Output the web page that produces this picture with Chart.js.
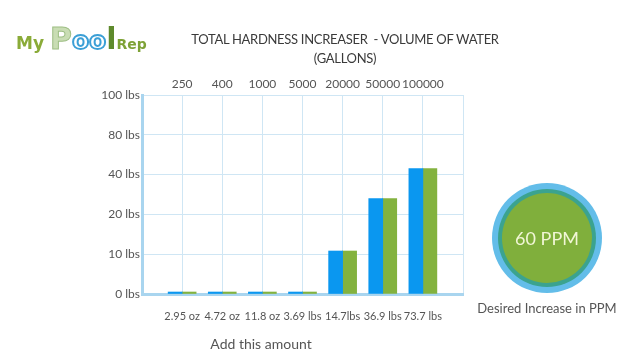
<!DOCTYPE html>
<html>
<head>
<meta charset="utf-8">
<script src="https://cdn.jsdelivr.net/npm/chart.js@4.4.1/dist/chart.umd.min.js"></script>
<style>
  html, body { margin: 0; padding: 0; background: #fff; }
  body { width: 640px; height: 360px; position: relative; overflow: hidden; font-family: Lato, "Open Sans", sans-serif; }
  #chart { position: absolute; left: 0; top: 0; }
  .txt { position: absolute; color: #555; white-space: nowrap; }
  .title { left: 150px; width: 390px; top: 30px; text-align: center; font-size: 13px; letter-spacing: -0.3px; line-height: 19px; color: #3a3a3a; }
  .xtitle { left: 161px; width: 200px; top: 335px; text-align: center; font-size: 14px; color: #555; }
  .ring { position: absolute; left: 492px; top: 183px; width: 110px; height: 110px; border-radius: 50%; background: #63bde9; }
  .ring .mid { position: absolute; left: 6px; top: 6px; width: 98px; height: 98px; border-radius: 50%; background: #3ba38f; }
  .ring .core { position: absolute; left: 4px; top: 4px; width: 90px; height: 90px; border-radius: 50%; background: #80af3c;
    color: #f1f6d6; font-size: 18px; text-align: center; line-height: 90px; }
  .ringlabel { left: 467px; width: 160px; top: 300px; text-align: center; font-size: 13px; }
  .logo { position: absolute; left: 16px; top: 21px; font-family: "DejaVu Sans", sans-serif; font-weight: bold; white-space: nowrap; }
  .logo .my { color: #8aab38; font-size: 17px; }
  .logo .p { color: #c9ddb4; font-size: 30px; -webkit-text-stroke: 1px #9fbf86; }
  .logo .o { color: #fff; font-size: 25px; -webkit-text-stroke: 2px #3b9fd6; }
  .logo .l { color: #5e8a2c; font-size: 30px; }
  .logo .rep { color: #7ea236; font-size: 14px; }
</style>
</head>
<body>
<canvas id="chart" width="640" height="360"></canvas>
<div class="logo"><span class="my">My </span><span class="p">P</span><span class="o">oo</span><span class="l">l</span><span class="rep">Rep</span></div>
<div class="txt title">TOTAL HARDNESS INCREASER&nbsp; - VOLUME OF WATER<br>(GALLONS)</div>
<div class="txt xtitle">Add this amount</div>
<div class="ring"><div class="mid"><div class="core">60 PPM</div></div></div>
<div class="txt ringlabel">Desired Increase in PPM</div>
<script>
// Data (bar heights are read in axis steps, the y axis is not linear in lbs)
const gallons = ['250', '400', '1000', '5000', '20000', '50000', '100000'];
const amounts = ['2.95 oz', '4.72 oz', '11.8 oz', '3.69 lbs', '14.7lbs', '36.9 lbs', '73.7 lbs'];
const yLabels = ['0 lbs', '10 lbs', '20 lbs', '40 lbs', '80 lbs', '100 lbs'];
const blueValues = [0.05, 0.05, 0.05, 0.05, 1.08, 2.4, 3.15];
const greenValues = [0.05, 0.05, 0.05, 0.05, 1.08, 2.4, 3.15];

const gridBlue = '#cfe6f4';
const axisBlue = '#a9d5ef';
const textGrey = '#555';

const toPoints = vals => vals.map((v, i) => ({ x: i + 1, y: v }));

new Chart(document.getElementById('chart'), {
  type: 'bar',
  data: {
    datasets: [
      { label: 'blue', data: toPoints(blueValues), backgroundColor: '#0a97f0', barThickness: 14 },
      { label: 'green', data: toPoints(greenValues), backgroundColor: '#83b23f', barThickness: 14 }
    ]
  },
  options: {
    responsive: false,
    animation: false,
    layout: { padding: { left: 92, top: 75, right: 177, bottom: 32 } },
    plugins: { legend: { display: false }, tooltip: { enabled: false } },
    scales: {
      x: {
        type: 'linear', min: 0, max: 8, position: 'bottom', offset: false,
        afterFit: s => { s.height = 34; },
        grid: { color: gridBlue, drawTicks: false, offset: false },
        border: { color: axisBlue, width: 3 },
        ticks: {
          stepSize: 1, padding: 16, color: textGrey, maxRotation: 0, autoSkip: false,
          font: { family: 'Lato', size: 11 },
          callback: v => amounts[v - 1] || ''
        }
      },
      xTop: {
        type: 'linear', min: 0, max: 8, position: 'top', offset: false,
        afterFit: s => { s.height = 20; },
        grid: { display: false, drawTicks: false, offset: false },
        border: { display: false },
        ticks: {
          stepSize: 1, padding: 4, color: textGrey, maxRotation: 0, autoSkip: false,
          font: { family: 'Lato', size: 12 },
          callback: v => gallons[v - 1] || ''
        }
      },
      y: {
        min: 0, max: 5,
        afterFit: s => { s.width = 50; },
        grid: { color: gridBlue, drawTicks: false },
        border: { color: axisBlue, width: 3 },
        ticks: {
          stepSize: 1, padding: 2, color: textGrey,
          font: { family: 'Lato', size: 12 },
          callback: v => yLabels[v]
        }
      }
    }
  }
});
</script>
</body>
</html>
